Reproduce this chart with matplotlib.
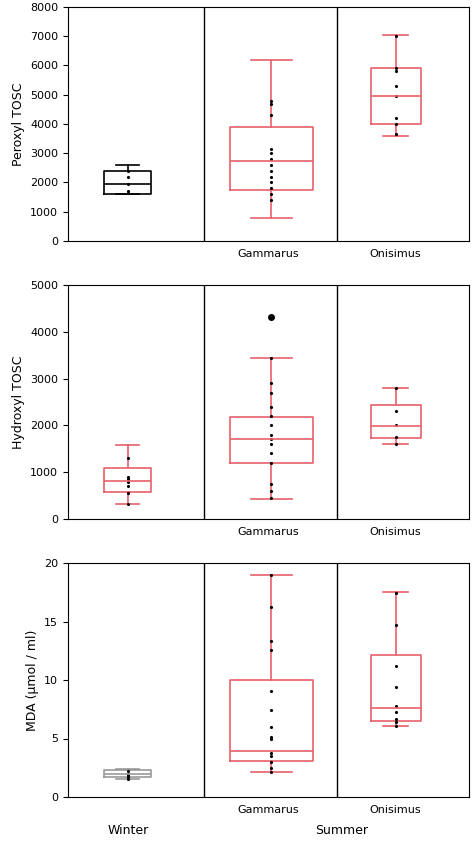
import matplotlib
matplotlib.use("Agg")
import matplotlib.pyplot as plt

groups = ["Winter Gammarus", "Summer Gammarus", "Summer Onisimus"]
ylabels = ["Peroxyl TOSC", "Hydroxyl TOSC", "MDA (\u00b5mol / ml)"]
ylims = [8000, 5000, 20]
yticks = [list(range(0, 8001, 1000)), list(range(0, 5001, 1000)), list(range(0, 21, 5))]
# (whislo, q1, med, q3, whishi)
stats = [
    [(1600, 1620, 1950, 2400, 2600), (780, 1750, 2750, 3900, 6200), (3600, 4000, 4950, 5900, 7050)],
    [(330, 570, 820, 1100, 1580), (420, 1200, 1720, 2180, 3450), (1600, 1730, 1980, 2430, 2800)],
    [(1.5, 1.7, 2.0, 2.3, 2.4), (2.1, 3.1, 3.9, 10.0, 19.0), (6.1, 6.5, 7.6, 12.1, 17.5)],
]
points = [
    [[1650, 1700, 1950, 2200, 2400], [1400, 1600, 1800, 2000, 2200, 2400, 2600, 2800, 3000, 3150, 4300, 4700, 4800], [3650, 4000, 4200, 4950, 5300, 5800, 5900, 7000]],
    [[330, 550, 700, 800, 850, 900, 1300], [450, 600, 750, 1200, 1400, 1600, 1700, 1800, 2000, 2200, 2400, 2700, 2900, 3450], [1600, 1750, 2000, 2300, 2800]],
    [[1.5, 1.7, 1.9, 2.0, 2.2], [2.1, 2.5, 3.0, 3.5, 3.8, 5.0, 5.1, 6.0, 7.4, 9.1, 12.6, 13.3, 16.2, 19.0], [6.1, 6.4, 6.7, 7.3, 7.8, 9.4, 11.2, 14.7, 17.4]],
]
outliers = [[[], [], []], [[], [4320], []], [[], [], []]]
box_colors = [["black", "#e8606a", "#e8606a"],
              ["#e8606a", "#e8606a", "#e8606a"],
              ["#999999", "#e8606a", "#e8606a"]]
pos = [0.149, 0.507, 0.817]
widths = [0.117, 0.207, 0.125]

fig = plt.figure(figsize=(4.74, 8.42), dpi=100)
tops = [7, 285, 563]
H = 234
for i in range(3):
    ax = fig.add_axes([68/474, 1 - (tops[i] + H)/842, 401/474, H/842])
    for j in range(3):
        lo, q1, med, q3, hi = stats[i][j]
        c = box_colors[i][j]
        ax.bxp([dict(whislo=lo, q1=q1, med=med, q3=q3, whishi=hi, fliers=[])], positions=[pos[j]],
               widths=widths[j], showfliers=False,
               boxprops=dict(color=c, lw=1.2), whiskerprops=dict(color=c, lw=1.2),
               capprops=dict(color=c, lw=1.2), medianprops=dict(color=c, lw=1.2))
        ax.plot([pos[j]] * len(points[i][j]), points[i][j], "k.", ms=2.5)
        if outliers[i][j]:
            ax.plot([pos[j]] * len(outliers[i][j]), outliers[i][j], "ko", ms=4)
    for s in [0.339, 0.671]:
        ax.axvline(s, color="black", lw=1)
    ax.set_xlim(0, 1)
    ax.set_ylim(0, ylims[i])
    ax.set_yticks(yticks[i])
    ax.set_xticks([0.5, 0.817])
    ax.set_xticklabels(["Gammarus", "Onisimus"], fontsize=8)
    ax.tick_params(axis="x", length=0, pad=6)
    ax.tick_params(axis="y", labelsize=8)
    ax.set_ylabel(ylabels[i], fontsize=9)
fig.text(128/474, 1 - 831/842, "Winter", ha="center", va="center", fontsize=9)
fig.text(342/474, 1 - 831/842, "Summer", ha="center", va="center", fontsize=9)
fig.savefig("out.png", dpi=100)
